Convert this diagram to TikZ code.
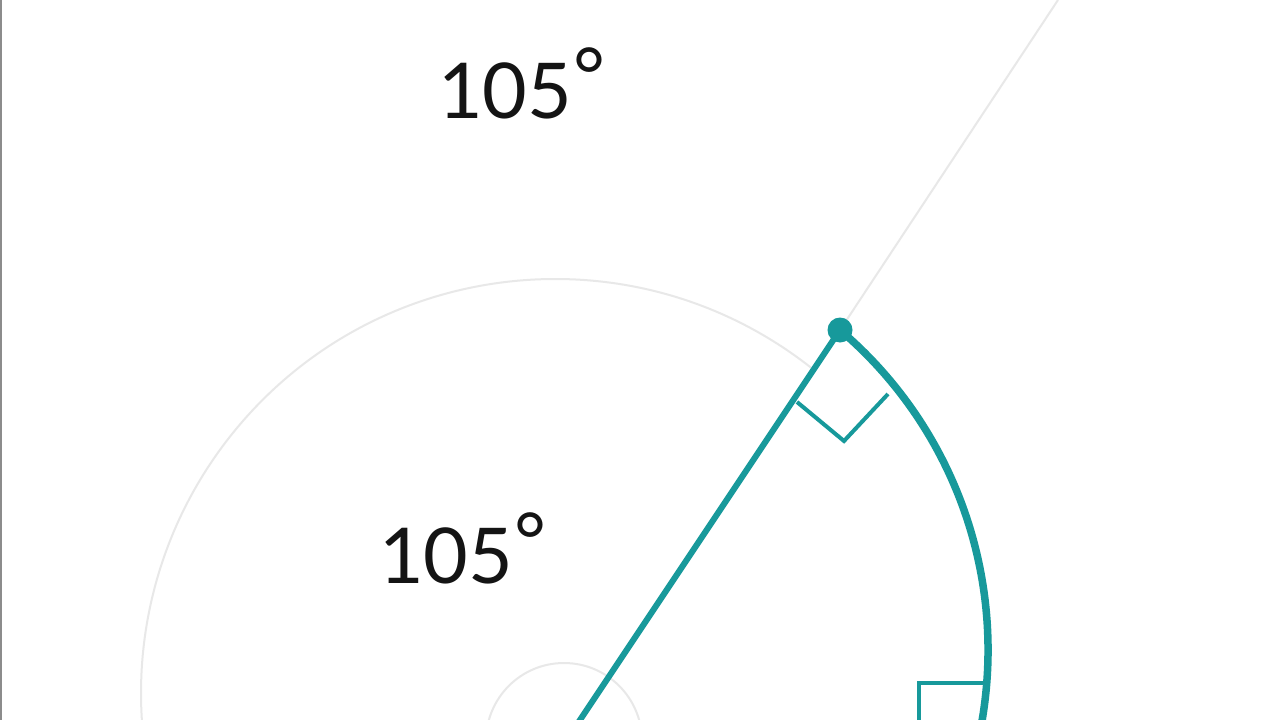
\documentclass[tikz,border=0pt]{standalone}
\usepackage{fontspec}
\usetikzlibrary{calc}
\setmainfont{Lato}
\definecolor{teal1}{HTML}{17999B}
\definecolor{faint}{HTML}{E8E8E8}
\definecolor{frameline}{HTML}{8C8C8C}
\definecolor{ink}{HTML}{141414}
\begin{document}
\begin{tikzpicture}[x=1pt,y=-1pt,
  faintline/.style={draw=faint,line width=2pt},
  tealthick/.style={draw=teal1,line width=6pt},
  tealarc/.style={draw=teal1,line width=7.5pt},
  tealmark/.style={draw=teal1,line width=4pt,line join=miter},
  anglelabel/.style={font=\fontsize{77}{80}\selectfont,text=ink,inner sep=0pt,anchor=base west}]
\useasboundingbox (0,0) rectangle (1280,720);
\fill[white] (0,0) rectangle (1280,720);
\begin{scope}
\clip (0,0) rectangle (1280,720);
% faint construction arcs
\coordinate (C1) at (555,693);
\coordinate (C2) at (564,741);
\coordinate (G1) at ($(C1)+(-51.8:414)$);
\draw[faintline] (G1) arc[start angle=-51.8, end angle=-192, radius=414];
\draw[faintline] (C2) circle[radius=78];
% vertex and ray
\coordinate (V) at (840,330);
\coordinate (R) at (1058,0);
\coordinate (B) at (574,729);
\draw[faintline] (V) -- (R);
% teal sector
\draw[tealthick] (B) -- (V);
\draw[tealarc] (V) arc[start angle=-49.64, end angle=15, radius=420];
% right angle marks
\coordinate (M1) at (797,402);
\coordinate (M2) at (844,441);
\coordinate (M3) at (888,394);
\draw[tealmark] (M1) -- (M2) -- (M3);
\coordinate (N1) at (919,726);
\coordinate (N2) at (919,683);
\coordinate (N3) at (985,683);
\draw[tealmark] (N1) -- (N2) -- (N3);
\fill[teal1] (V) circle[radius=12.5];
% left frame line
\coordinate (L1) at (1,0);
\coordinate (L2) at (1,720);
\draw[frameline,line width=2pt] (L1) -- (L2);
\end{scope}
% labels
\node[anglelabel] (t1) at (438,118) {105\kern1pt\raisebox{15pt}{°}};
\node[anglelabel] (t2) at (379,583) {105\kern1pt\raisebox{15pt}{°}};
\end{tikzpicture}
\end{document}
